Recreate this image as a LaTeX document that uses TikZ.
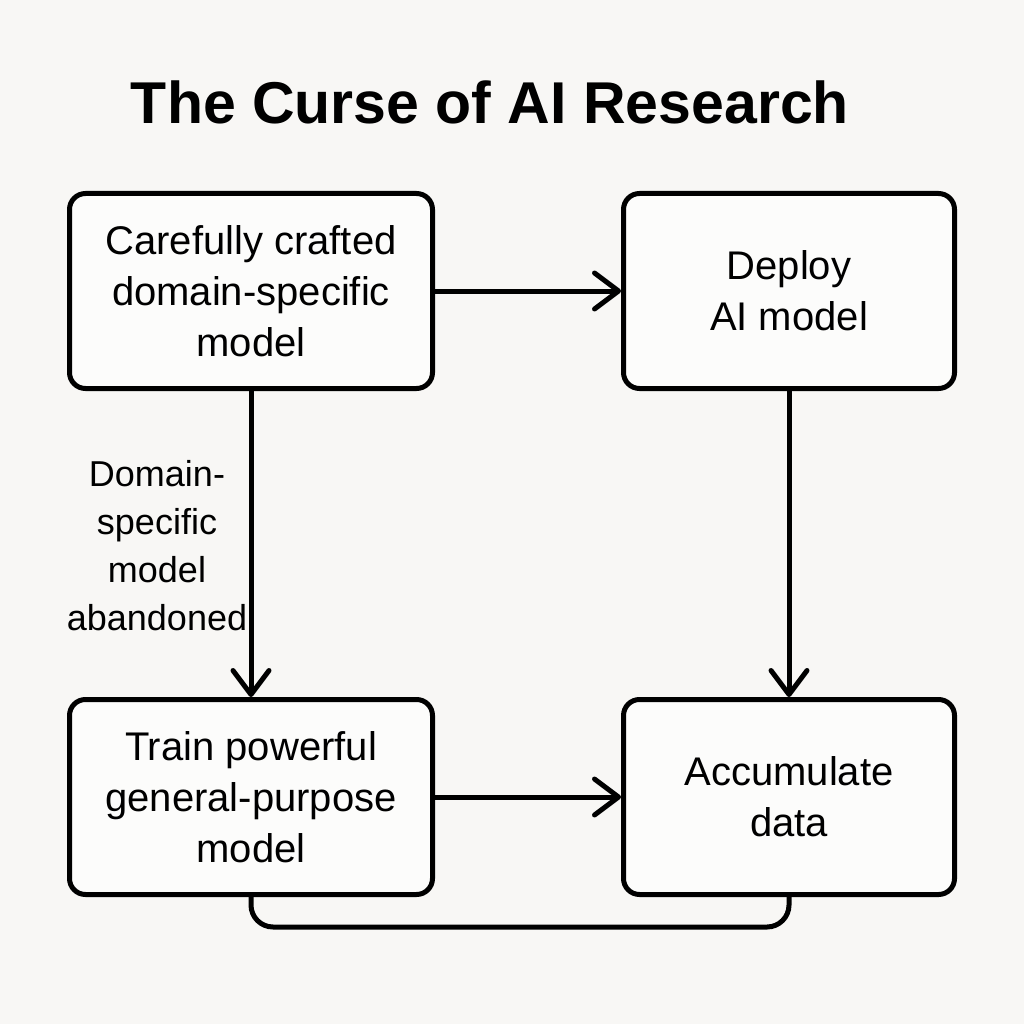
\documentclass[tikz,border=0pt]{standalone}
\usepackage{fontspec}
\setmainfont{Liberation Sans}
\usetikzlibrary{arrows.meta}
\definecolor{bg}{HTML}{F8F7F5}
\begin{document}
\begin{tikzpicture}[x=1pt,y=-1pt,
  box/.style={draw=black, line width=5pt, rounded corners=16pt, fill=white!60!bg,
    minimum width=363pt, minimum height=195pt, align=center,
    font=\fontsize{40}{51}\selectfont, inner sep=0pt},
  arr/.style={line width=5pt, -{Straight Barb[length=24pt,width=36pt,line width=5pt,line cap=round,round]}},
  conn/.style={line width=5pt, rounded corners=22pt}
]
\fill[bg] (0,0) rectangle (1024,1024);
\useasboundingbox (0,0) rectangle (1024,1024);
\node[font=\bfseries\fontsize{59}{62}\selectfont] (title) at (490,102) {The Curse of AI Research};
\node[box] (b1) at (251,291) {Carefully crafted\\domain-specific\\model};
\node[box, minimum width=331pt] (b2) at (789,291) {Deploy\\AI model};
\node[box] (b3) at (251,797) {Train powerful\\general-purpose\\model};
\node[box, minimum width=331pt] (b4) at (789,797) {Accumulate\\data};
\draw[arr] (b1.east) -- (b2.west);
\draw[arr] (b3.east) -- (b4.west);
\draw[arr] (b1.south) -- (b3.north);
\draw[arr] (b2.south) -- (b4.north);
\draw[conn] (b3.south) -- ++(0,30) -| (b4.south);
\node[align=center, font=\fontsize{36}{48}\selectfont] (lbl) at (157,546) {Domain-\\specific\\model\\abandoned};
\end{tikzpicture}
\end{document}
